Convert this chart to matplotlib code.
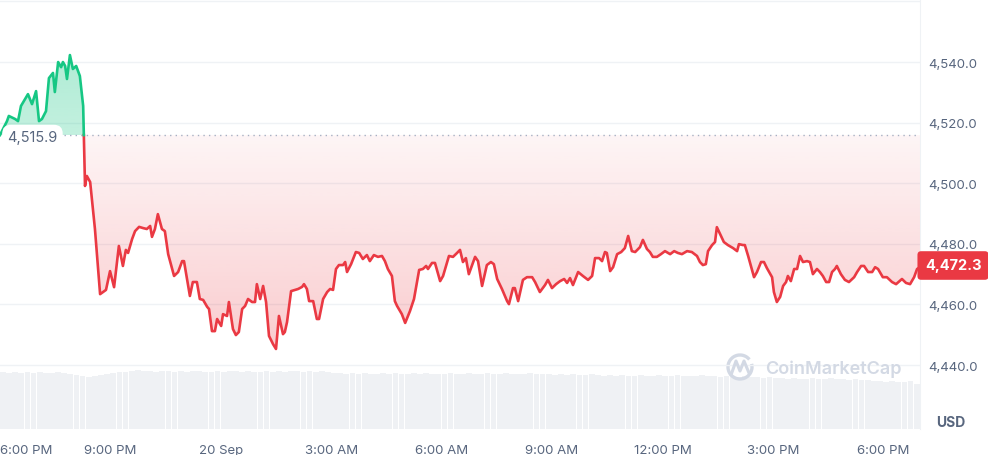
import matplotlib
matplotlib.use("Agg")
import matplotlib.pyplot as plt
import numpy as np
from matplotlib.colors import to_rgb
from matplotlib.path import Path
from matplotlib.patches import Arc

plt.rcParams['font.family'] = ['Inter', 'DejaVu Sans']

# hours since 6:00 PM (19 Sep) and price in USD
hours = [0.00, 0.19, 0.24, 0.41, 0.49, 0.57, 0.68, 0.76, 0.87, 0.98, 1.06, 1.14, 1.25, 1.33,
         1.44, 1.49, 1.58, 1.66, 1.71, 1.77, 1.82, 1.90, 1.98, 2.07, 2.12, 2.17, 2.26, 2.31,
         2.36, 2.45, 2.58, 2.72, 2.88, 2.99, 3.10, 3.23, 3.34, 3.42, 3.48, 3.59, 3.67, 3.78,
         3.89, 3.99, 4.08, 4.13, 4.21, 4.29, 4.40, 4.48, 4.57, 4.73, 4.84, 4.95, 5.00, 5.16,
         5.24, 5.35, 5.43, 5.52, 5.63, 5.68, 5.76, 5.84, 5.90, 6.01, 6.06, 6.17, 6.22, 6.33,
         6.41, 6.49, 6.58, 6.66, 6.74, 6.85, 6.93, 6.98, 7.07, 7.15, 7.23, 7.31, 7.42, 7.50,
         7.58, 7.69, 7.74, 7.80, 7.91, 8.02, 8.10, 8.21, 8.26, 8.34, 8.40, 8.51, 8.61, 8.67,
         8.78, 8.89, 8.97, 9.05, 9.13, 9.21, 9.32, 9.38, 9.43, 9.54, 9.67, 9.76, 9.86, 9.97,
         10.05, 10.16, 10.27, 10.38, 10.46, 10.54, 10.65, 10.73, 10.79, 10.92, 11.01, 11.14,
         11.25, 11.39, 11.49, 11.58, 11.63, 11.74, 11.82, 11.96, 12.04, 12.20, 12.31, 12.42,
         12.50, 12.58, 12.66, 12.74, 12.91, 12.99, 13.10, 13.23, 13.34, 13.42, 13.51, 13.64,
         13.78, 13.83, 13.94, 13.99, 14.08, 14.21, 14.32, 14.46, 14.54, 14.67, 14.81, 14.89,
         15.00, 15.11, 15.22, 15.33, 15.41, 15.49, 15.57, 15.71, 15.84, 15.98, 16.09, 16.17,
         16.28, 16.36, 16.44, 16.49, 16.58, 16.66, 16.77, 16.88, 16.98, 17.07, 17.17, 17.26,
         17.39, 17.47, 17.58, 17.66, 17.74, 17.85, 17.96, 18.07, 18.21, 18.32, 18.42, 18.53,
         18.67, 18.80, 18.94, 19.02, 19.10, 19.18, 19.24, 19.35, 19.43, 19.48, 19.57, 19.67,
         19.78, 19.92, 20.03, 20.08, 20.19, 20.24, 20.33, 20.43, 20.49, 20.57, 20.68, 20.76,
         20.84, 20.98, 21.03, 21.11, 21.20, 21.28, 21.36, 21.41, 21.49, 21.58, 21.66, 21.74,
         21.82, 21.93, 22.01, 22.09, 22.20, 22.28, 22.36, 22.45, 22.53, 22.61, 22.69, 22.74,
         22.85, 22.96, 23.07, 23.21, 23.29, 23.40, 23.48, 23.59, 23.70, 23.78, 23.86, 23.99,
         24.10, 24.24, 24.35, 24.51, 24.62, 24.73, 24.84, 24.92, 25.00]
prices = [4515.9, 4520.5, 4522.2, 4521.2, 4520.5, 4525.5, 4527.8, 4529.4, 4526.1, 4530.4,
          4520.5, 4521.2, 4523.8, 4534.7, 4536.4, 4530.1, 4540.0, 4538.3, 4540.0, 4538.7,
          4534.4, 4542.3, 4537.7, 4538.7, 4537.0, 4535.4, 4525.5, 4499.1, 4502.4, 4500.4,
          4484.9, 4463.4, 4464.8, 4471.0, 4465.7, 4479.3, 4472.7, 4478.0, 4477.0, 4481.6,
          4484.2, 4485.6, 4485.2, 4484.9, 4485.9, 4482.3, 4484.9, 4489.8, 4484.9, 4484.2,
          4476.6, 4469.4, 4470.7, 4474.3, 4474.3, 4462.8, 4467.4, 4467.4, 4461.8, 4461.5,
          4459.2, 4458.5, 4451.2, 4451.2, 4455.2, 4452.9, 4456.8, 4456.2, 4460.8, 4451.9,
          4449.9, 4450.9, 4458.5, 4459.5, 4461.8, 4460.8, 4460.8, 4466.7, 4461.8, 4466.1,
          4460.8, 4449.6, 4446.9, 4445.3, 4456.2, 4450.2, 4450.9, 4454.2, 4464.4, 4464.8,
          4465.1, 4465.8, 4466.7, 4465.1, 4461.1, 4461.1, 4455.2, 4455.2, 4461.8, 4464.1,
          4465.1, 4464.8, 4471.7, 4473.0, 4473.0, 4474.0, 4470.7, 4473.3, 4477.3, 4477.0,
          4475.0, 4476.3, 4474.3, 4476.3, 4475.7, 4476.0, 4474.3, 4471.7, 4469.4, 4461.1,
          4459.5, 4456.8, 4453.9, 4457.8, 4461.8, 4471.4, 4471.7, 4472.7, 4471.7, 4473.7,
          4473.7, 4467.7, 4469.4, 4476.0, 4475.7, 4477.0, 4478.0, 4474.0, 4475.3, 4470.0,
          4475.7, 4474.3, 4466.1, 4473.0, 4474.0, 4473.3, 4468.4, 4465.1, 4461.1, 4460.1,
          4465.4, 4465.4, 4461.1, 4468.1, 4469.0, 4469.0, 4467.4, 4464.1, 4466.4, 4468.1,
          4465.4, 4466.7, 4467.7, 4468.4, 4467.1, 4468.7, 4466.4, 4470.7, 4469.4, 4468.1,
          4469.4, 4475.3, 4475.3, 4474.3, 4477.3, 4477.0, 4471.0, 4472.3, 4476.6, 4477.3,
          4478.6, 4482.6, 4477.6, 4477.3, 4478.9, 4481.3, 4478.3, 4477.3, 4475.7, 4475.7,
          4476.6, 4477.6, 4476.6, 4477.6, 4477.0, 4476.6, 4477.6, 4477.3, 4476.0, 4474.0,
          4473.0, 4473.3, 4477.6, 4479.6, 4480.6, 4485.5, 4483.2, 4480.6, 4479.6, 4478.6,
          4477.6, 4479.9, 4479.6, 4479.6, 4476.0, 4471.7, 4469.0, 4470.7, 4474.0, 4474.0,
          4472.0, 4469.0, 4464.1, 4460.8, 4462.5, 4466.1, 4467.4, 4469.4, 4467.7, 4471.7,
          4471.7, 4476.0, 4474.0, 4474.3, 4474.0, 4470.0, 4471.7, 4470.7, 4469.4, 4467.4,
          4467.4, 4470.7, 4471.7, 4472.7, 4470.0, 4468.1, 4467.4, 4469.0, 4470.7, 4472.7,
          4472.7, 4470.7, 4470.7, 4472.3, 4471.7, 4469.0, 4469.0, 4467.4, 4466.7, 4468.4,
          4467.1, 4466.7, 4469.0, 4471.7, 4472.3]

open_price = 4515.9
last_price = 4472.3

# relative volume per 10-minute slot
volume = [5.7, 5.6, 5.7, 5.6, 5.7, 5.6, 5.7, 5.6, 5.6, 5.7, 5.6, 5.5, 5.4, 5.3, 5.2, 5.3,
          5.4, 5.5, 5.6, 5.7, 5.7, 5.8, 5.9, 5.8, 5.8, 5.7, 5.8, 5.8, 5.7, 5.8, 5.7, 5.8,
          5.8, 5.7, 5.7, 5.8, 5.7, 5.8, 5.8, 5.7, 5.8, 5.7, 5.7, 5.8, 5.7, 5.8, 5.7, 5.8,
          5.8, 5.7, 5.8, 5.7, 5.8, 5.7, 5.6, 5.6, 5.5, 5.6, 5.5, 5.6, 5.5, 5.5, 5.6, 5.5,
          5.6, 5.5, 5.5, 5.6, 5.5, 5.6, 5.5, 5.5, 5.5, 5.6, 5.5, 5.5, 5.6, 5.5, 5.5, 5.6,
          5.5, 5.5, 5.6, 5.5, 5.5, 5.5, 5.6, 5.5, 5.5, 5.5, 5.4, 5.5, 5.4, 5.5, 5.4, 5.4,
          5.5, 5.4, 5.3, 5.4, 5.3, 5.4, 5.3, 5.3, 5.4, 5.3, 5.3, 5.4, 5.3, 5.3, 5.4, 5.3,
          5.3, 5.3, 5.4, 5.3, 5.3, 5.2, 5.3, 5.2, 5.2, 5.3, 5.2, 5.2, 5.1, 5.2, 5.1, 5.1,
          5.0, 5.1, 5.0, 5.0, 5.1, 5.0, 5.0, 5.1, 5.0, 5.0, 4.9, 5.0, 4.9, 4.9, 4.8, 4.8,
          4.7, 4.8, 4.7, 4.7, 4.8, 4.5]
vol_hours = [i / 6 for i in range(len(volume))]

x_ticks = [0, 3, 6, 9, 12, 15, 18, 21, 24]
x_labels = ['6:00 PM', '9:00 PM', '20 Sep', '3:00 AM', '6:00 AM', '9:00 AM',
            '12:00 PM', '3:00 PM', '6:00 PM']
y_ticks = [4440, 4460, 4480, 4500, 4520, 4540]
grid_levels = [4440, 4460, 4480, 4500, 4520, 4540, 4560]

GREEN = '#16c784'
RED = '#ea3943'
TEXT = '#58667e'
GRID = '#eff2f5'

W, H = 988, 456
fig = plt.figure(figsize=(W / 100, H / 100), dpi=100)
ax = fig.add_axes([0, 26 / H, 920 / W, 430 / H])
xlim = (0, 25.0)
ylim = (4418.9, 4560.8)

# volume on its own scale
vax = ax.twinx()
vax.bar(vol_hours, volume, width=1 / 6 * 0.93, align='edge', color='#eff1f4',
        linewidth=0, zorder=1)
vax.set_ylim(0, 43)
vax.axis('off')
ax.set_zorder(vax.get_zorder() + 1)
ax.patch.set_visible(False)

for g in grid_levels:
    ax.axhline(g, color=GRID, lw=1, zorder=0)

# insert crossing points with the opening price
t = np.array(hours)
p = np.array(prices)
xs, ys = [t[0]], [p[0]]
for i in range(1, len(t)):
    a, b = p[i - 1] - open_price, p[i] - open_price
    if a * b < 0:
        tc = t[i - 1] + (t[i] - t[i - 1]) * a / (a - b)
        xs.append(tc)
        ys.append(open_price)
    xs.append(t[i])
    ys.append(p[i])
xs, ys = np.array(xs), np.array(ys)


def gradient_fill(where, color, a_near, a_far, y_far):
    coll = ax.fill_between(xs, ys, open_price, where=where, facecolor='none',
                           edgecolor='none')
    path = Path.make_compound_path(*coll.get_paths())
    img = np.zeros((200, 1, 4))
    img[:, :, :3] = to_rgb(color)
    lo, hi = sorted([open_price, y_far])
    alphas = np.linspace(a_near, a_far, 200)
    if y_far < open_price:
        img[:, 0, 3] = alphas          # top row = opening price
    else:
        img[:, 0, 3] = alphas[::-1]
    im = ax.imshow(img, extent=[xlim[0], xlim[1], lo, hi], origin='upper',
                   aspect='auto', zorder=2, interpolation='bilinear')
    im.set_clip_path(path, transform=ax.transData)


gradient_fill(ys <= open_price, RED, 0.05, 0.26, min(prices))
gradient_fill(ys >= open_price, GREEN, 0.26, 0.34, max(prices))

ax.plot([1.75, xlim[1]], [open_price, open_price], color='#a6b0c3', lw=1,
        ls=(0, (1, 3)), zorder=3)

above = np.where(ys >= open_price, ys, np.nan)
below = np.where(ys <= open_price, ys, np.nan)
ax.plot(xs, below, color=RED, lw=1.9, zorder=4, solid_joinstyle='round')
ax.plot(xs, above, color=GREEN, lw=1.9, zorder=4, solid_joinstyle='round')

ax.set_xlim(*xlim)
ax.set_ylim(*ylim)
for s in ['top', 'left', 'bottom']:
    ax.spines[s].set_visible(False)
ax.spines['right'].set_color(GRID)

ax.yaxis.tick_right()
ax.set_yticks(y_ticks)
ax.set_yticklabels([f'{v:,.1f}' for v in y_ticks])
ax.tick_params(axis='y', length=0, pad=6, labelcolor=TEXT, labelsize=9.5)

ax.set_xticks(x_ticks)
ax.set_xticklabels(x_labels)
ax.tick_params(axis='x', length=0, pad=11, labelcolor=TEXT, labelsize=9.5)
ax.get_xticklabels()[0].set_horizontalalignment('left')

# opening price label
ax.text(0.2, open_price - 0.6, f'{open_price:,.1f}', color=TEXT, fontsize=10.5,
        va='center', ha='left', zorder=6,
        bbox=dict(boxstyle='round,pad=0.35,rounding_size=0.6', fc='white', ec='none'))

# last price tag
fig.text(953 / W, 1 - 266.5 / H, f'{last_price:,.1f}', color='white', fontsize=10.5,
         fontweight='bold', ha='center', va='center',
         bbox=dict(boxstyle='round,pad=0.5,rounding_size=0.25', fc=RED, ec='none'))

fig.text(951 / W, 1 - 423 / H, 'USD', color=TEXT, fontsize=10, fontweight='bold',
         ha='center', va='center')

# watermark
wm = '#d3d9e4'
fig.text(765 / W, 1 - 369 / H, 'CoinMarketCap', color=wm, fontsize=13,
         fontweight='semibold', ha='left', va='center')
cx, cy, r = 740, 368, 12
fig.add_artist(Arc((cx / W, 1 - cy / H), 2 * r / W, 2 * r / H, theta1=60, theta2=390,
                   color=wm, lw=2.4, transform=fig.transFigure))
fig.add_artist(plt.Line2D(np.array([731, 736, 740, 744, 749]) / W,
                          1 - np.array([376, 362, 372, 362, 374]) / H,
                          color=wm, lw=2.2, transform=fig.transFigure,
                          solid_joinstyle='round', solid_capstyle='round'))

fig.savefig('out.png', dpi=100, facecolor='white')
